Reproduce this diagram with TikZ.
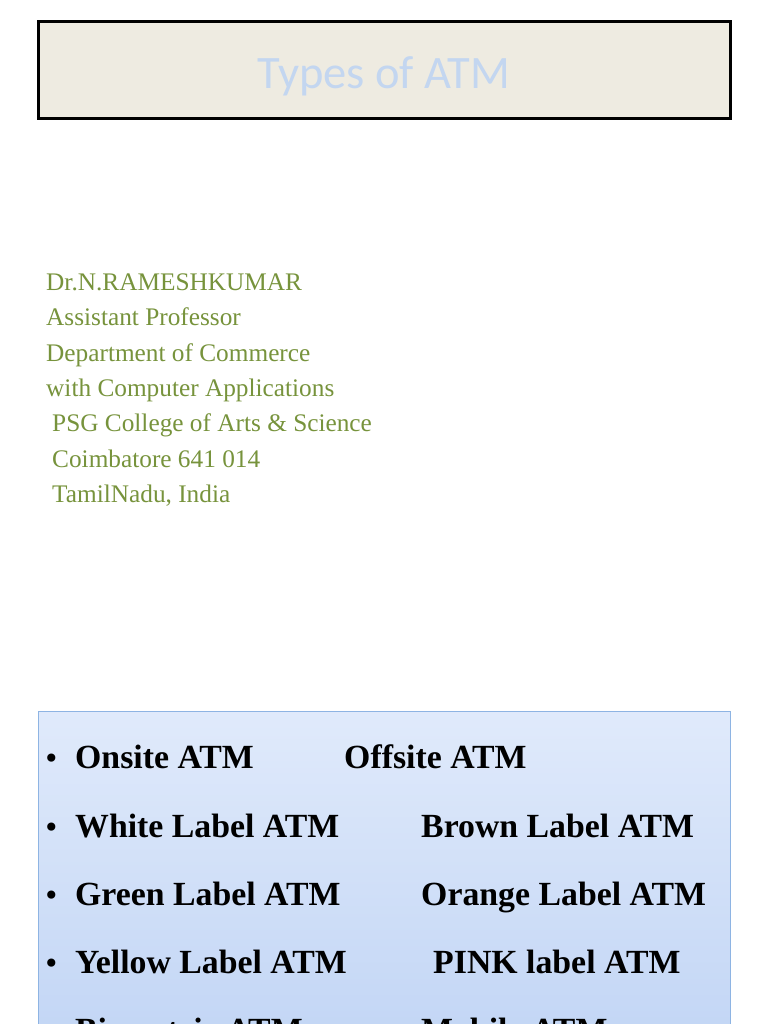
\documentclass[tikz,border=0pt]{standalone}
\usepackage{fontspec}
\setmainfont{Liberation Serif}
\newfontfamily\carlito{Carlito}
\newfontfamily\djv{DejaVu Sans}
\definecolor{titlefill}{HTML}{EEEBE1}
\definecolor{titletext}{HTML}{C3D6F0}
\definecolor{author}{HTML}{77933C}
\definecolor{boxtop}{HTML}{E0EAFB}
\definecolor{boxbot}{HTML}{BDD2F4}
\definecolor{boxline}{HTML}{8EB4E3}
\tikzset{
  auth/.style={anchor=base west,inner sep=0pt,text=author,font=\fontsize{25.3}{25.3}\selectfont},
  item/.style={anchor=base west,inner sep=0pt,font=\bfseries\fontsize{33.8}{33.8}\selectfont},
  bul/.style={anchor=base west,inner sep=0pt,font=\djv\fontsize{28}{28}\selectfont}
}
\begin{document}
\begin{tikzpicture}[x=1pt,y=-1pt]
\useasboundingbox (0,0) rectangle (768,1024);
\clip (0,0) rectangle (768,1024);
\fill[white] (0,0) rectangle (768,1024);
\draw[line width=3pt,fill=titlefill] (38,22) rectangle (730,119);
\node[text=titletext,font=\carlito\fontsize{46.5}{46.5}\selectfont] (title) at (384,76) {Types of ATM};
\node[auth] (a1) at (46,290) {Dr.N.RAMESHKUMAR};
\node[auth] (a2) at (46,325) {Assistant Professor};
\node[auth] (a3) at (46,361) {Department of Commerce};
\node[auth] (a4) at (46,396) {with Computer Applications};
\node[auth] (a5) at (52,431) {PSG College of Arts \& Science};
\node[auth] (a6) at (52,467) {Coimbatore 641 014};
\node[auth] (a7) at (52,502) {TamilNadu, India};
\shade[top color=boxtop,bottom color=boxbot] (38,711) rectangle (730,1100);
\draw[boxline,line width=1pt] (38,1100) -- (38,711) -- (730,711) -- (730,1100);
\foreach \y/\l/\r/\rx [count=\i] in {768/Onsite ATM/Offsite ATM/344,837/White Label ATM/Brown Label ATM/421,905/Green Label ATM/Orange Label ATM/421,973/Yellow Label ATM/PINK label ATM/433,1041/Biometric ATM/Mobile ATM/421}{
  \node[bul] (b\i) at (43,\y) {•};
  \node[item] (l\i) at (75,\y) {\l};
  \node[item] (r\i) at (\rx,\y) {\r};
}
\end{tikzpicture}
\end{document}
